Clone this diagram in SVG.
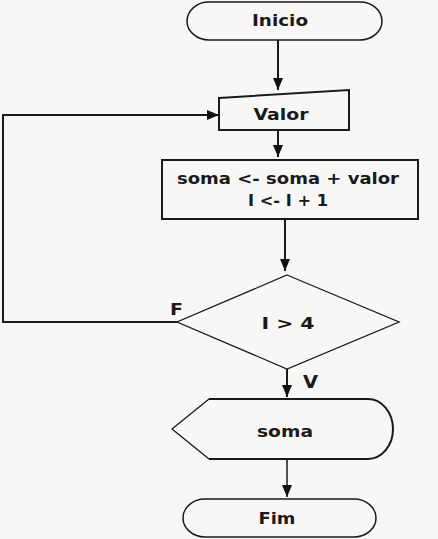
<svg xmlns="http://www.w3.org/2000/svg" width="438" height="539" viewBox="0 0 438 539">
<defs>
<marker id="ah" viewBox="0 0 12 10" refX="12" refY="5" markerWidth="12" markerHeight="10" markerUnits="userSpaceOnUse" orient="auto">
<path d="M0,0 L12,5 L0,10 Z" fill="#111"/>
</marker>
</defs>
<style>
.t{font-family:"DejaVu Sans","Verdana",sans-serif;font-weight:bold;fill:#1a1a1a;text-anchor:middle}
.s{fill:none;stroke:#1a1a1a}
.c{fill:none;stroke:#1a1a1a;stroke-width:2}
</style>
<rect width="438" height="539" fill="#f8f7f5"/>
<g id="connectors">
<line class="c" x1="278" y1="40" x2="278" y2="90" marker-end="url(#ah)"/>
<line class="c" x1="278" y1="130" x2="278" y2="157" marker-end="url(#ah)"/>
<line class="c" x1="285" y1="219" x2="285" y2="271" marker-end="url(#ah)"/>
<line class="c" x1="287" y1="369" x2="287" y2="397" marker-end="url(#ah)"/>
<line class="s" stroke-width="1.5" x1="287" y1="460" x2="287" y2="497" marker-end="url(#ah)"/>
<polyline class="c" stroke="#333" points="177,322 3,322 3,115 219,115" marker-end="url(#ah)"/>
<text class="t" x="176.5" y="315" font-size="16" textLength="13" lengthAdjust="spacingAndGlyphs">F</text>
<text class="t" x="310.5" y="388" font-size="17" textLength="15" lengthAdjust="spacingAndGlyphs">V</text>
</g>
<g id="inicio">
<rect class="s" stroke-width="1.5" x="187" y="2" width="195" height="38" rx="22" ry="19"/>
<text class="t" x="280" y="26" font-size="16" textLength="56" lengthAdjust="spacingAndGlyphs">Inicio</text>
</g>
<g id="valor">
<polygon class="s" stroke-width="2" points="219,98 349,90 349,130 219,130"/>
<text class="t" x="281" y="120" font-size="16" textLength="55" lengthAdjust="spacingAndGlyphs">Valor</text>
</g>
<g id="processo">
<rect class="s" stroke-width="2" x="162" y="160" width="256" height="59"/>
<text class="t" x="288" y="184" font-size="16" textLength="222" lengthAdjust="spacingAndGlyphs">soma &lt;- soma + valor</text>
<text class="t" x="288" y="206" font-size="16" textLength="80" lengthAdjust="spacingAndGlyphs">I &lt;- I + 1</text>
</g>
<g id="decisao">
<polygon class="s" stroke-width="1.3" stroke="#333" points="287,275 399,322 287,369 177,322"/>
<text class="t" x="288" y="329" font-size="16" textLength="53" lengthAdjust="spacingAndGlyphs">I  &gt; 4</text>
</g>
<g id="saida">
<path class="s" stroke-width="1.3" d="M209,399 L172,429 L209,459"/>
<path class="s" stroke-width="2" d="M209,399 L368,399 A25,30 0 0 1 368,459 L209,459"/>
<text class="t" x="285" y="437" font-size="16" textLength="56" lengthAdjust="spacingAndGlyphs">soma</text>
</g>
<g id="fim">
<rect class="s" stroke-width="1.5" x="183" y="499" width="193" height="38" rx="22" ry="19"/>
<text class="t" x="277" y="524" font-size="16" textLength="37" lengthAdjust="spacingAndGlyphs">Fim</text>
</g>
</svg>
